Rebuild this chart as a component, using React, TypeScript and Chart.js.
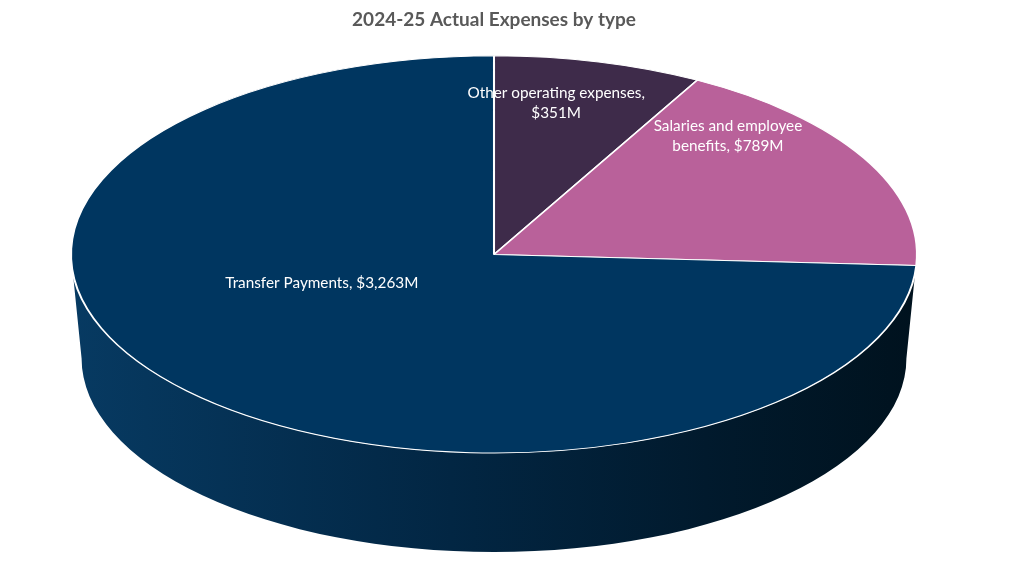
import { useEffect, useRef } from "react";
import { Chart, registerables } from "chart.js";

Chart.register(...registerables);

// Expense categories, drawn clockwise from 12 o'clock
const categories = [
  "Other operating expenses",
  "Salaries and employee benefits",
  "Transfer Payments",
];
// Actual expenses, $ millions
const expenses = [351, 789, 3263];
const sliceColors = ["#3e2b4a", "#b9619a", "#003660"];

const TITLE = "2024-25 Actual Expenses by type";
const FONT = "Lato, 'Open Sans', sans-serif";

// Pie tilt / extrusion settings
const DEPTH = 99; // height of the side wall at the front
const BASE_SHRINK = 0.975; // the base ellipse is slightly smaller (depth cue)

// Label box centres, in units of the top ellipse radii from its centre
const labelAnchors = [
  [0.147, -0.763],
  [0.553, -0.596],
  [-0.407, 0.146],
];
const labelWrap = [205, 165, 400];

const fmtMoney = (v: number) => "$" + v.toLocaleString("en-US") + "M";

function ellipseOf(chart: any) {
  const a = chart.chartArea;
  const rx = (a.right - a.left) / 2;
  const ry = (a.bottom - a.top - DEPTH) / 2;
  return { cx: (a.left + a.right) / 2, cy: a.top + ry, rx, ry };
}

function wrap(ctx: CanvasRenderingContext2D, text: string, maxW: number) {
  const words = text.split(" ");
  const lines: string[] = [];
  let cur = "";
  for (const w of words) {
    const t = cur ? cur + " " + w : w;
    if (cur && ctx.measureText(t).width > maxW) {
      lines.push(cur);
      cur = w;
    } else cur = t;
  }
  if (cur) lines.push(cur);
  return lines;
}

const pie3d = {
  id: "pie3d",
  beforeDatasetsDraw(chart: any) {
    const ctx: CanvasRenderingContext2D = chart.ctx;
    const meta = chart.getDatasetMeta(0);
    const el = meta.data[0];
    if (!el) return;
    const { x, y, outerRadius } = el.getProps(["x", "y", "outerRadius"], true);
    const { cx, cy, rx, ry } = ellipseOf(chart);
    const rx2 = rx * BASE_SHRINK;
    const ry2 = ry * BASE_SHRINK;
    const cy2 = cy + DEPTH + ry - ry2;

    ctx.save();
    // side wall of the cylinder
    const grad = ctx.createLinearGradient(cx - rx, 0, cx + rx, 0);
    grad.addColorStop(0, "#073a62");
    grad.addColorStop(0.45, "#022643");
    grad.addColorStop(0.75, "#011a2d");
    grad.addColorStop(1, "#00121e");
    ctx.beginPath();
    ctx.moveTo(cx + rx, cy);
    ctx.ellipse(cx, cy, rx, ry, 0, 0, Math.PI, false);
    ctx.lineTo(cx - rx2, cy2);
    ctx.ellipse(cx, cy2, rx2, ry2, 0, Math.PI, 0, true);
    ctx.closePath();
    ctx.fillStyle = grad;
    ctx.fill();

    // squash the flat pie onto the tilted top face
    ctx.translate(cx, cy);
    ctx.scale(rx / outerRadius, ry / outerRadius);
    ctx.translate(-x, -y);
  },
  afterDatasetsDraw(chart: any) {
    const ctx: CanvasRenderingContext2D = chart.ctx;
    ctx.restore();
    const { cx, cy, rx, ry } = ellipseOf(chart);
    ctx.save();
    ctx.font = `15.3px ${FONT}`;
    ctx.fillStyle = "#ffffff";
    ctx.textAlign = "center";
    ctx.textBaseline = "middle";
    const lh = 19.5;
    categories.forEach((c, i) => {
      const text = `${c}, ${fmtMoney(expenses[i])}`;
      const lines = wrap(ctx, text, labelWrap[i]);
      const lx = cx + labelAnchors[i][0] * rx;
      const ly = cy + labelAnchors[i][1] * ry;
      const y0 = ly - ((lines.length - 1) * lh) / 2;
      lines.forEach((ln, k) => ctx.fillText(ln, lx, y0 + k * lh));
    });
    ctx.restore();
  },
};

export default function App() {
  const ref = useRef<HTMLCanvasElement>(null);

  useEffect(() => {
    document.body.style.margin = "0";
    const canvas = ref.current!;
    const chart = new Chart(canvas, {
      type: "pie",
      data: {
        labels: categories,
        datasets: [
          {
            data: expenses,
            backgroundColor: sliceColors,
            borderColor: "#ffffff",
            borderWidth: 1.2,
            clip: false as any,
          },
        ],
      },
      options: {
        responsive: false,
        animation: false,
        events: [],
        layout: { padding: { left: 71, right: 116, top: 0, bottom: 20 } },
        plugins: {
          legend: { display: false },
          tooltip: { enabled: false },
          title: {
            display: true,
            text: TITLE,
            color: "#595959",
            font: { family: FONT, size: 19, weight: "bold" },
            padding: { top: 8, bottom: 25 },
          },
        },
      },
      plugins: [pie3d],
    });
    return () => chart.destroy();
  }, []);

  return (
    <div style={{ width: 1033, height: 572, background: "#ffffff" }}>
      <canvas ref={ref} width={1033} height={572} style={{ display: "block" }} />
    </div>
  );
}
